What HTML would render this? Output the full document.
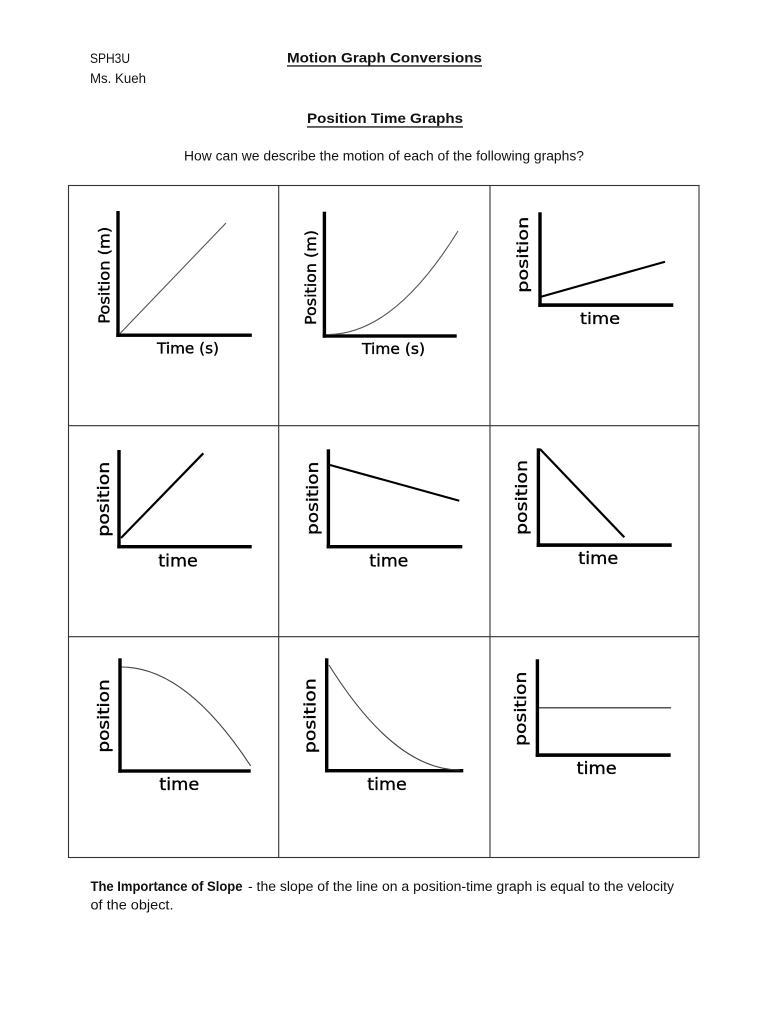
<!DOCTYPE html>
<html>
<head>
<meta charset="utf-8">
<style>
html,body{margin:0;padding:0;background:#fff;}
svg{display:block;}
.hd{font-family:"Liberation Sans",sans-serif;fill:#111;}
.gl{font-family:"DejaVu Sans","Liberation Sans",sans-serif;fill:#000;stroke:#000;stroke-width:0.35;}
</style>
</head>
<body>
<svg width="768" height="1024" viewBox="0 0 768 1024" xmlns="http://www.w3.org/2000/svg">
<rect width="768" height="1024" fill="#fff"/>

<!-- Header -->
<text class="hd" x="90" y="63" font-size="13.5" textLength="40" lengthAdjust="spacingAndGlyphs">SPH3U</text>
<text class="hd" x="90" y="83" font-size="13.5" textLength="56" lengthAdjust="spacingAndGlyphs">Ms. Kueh</text>
<text class="hd" x="287" y="62.5" font-size="14" font-weight="bold" textLength="195" lengthAdjust="spacingAndGlyphs">Motion Graph Conversions</text>
<rect x="287" y="65.3" width="195" height="1.3" fill="#111"/>
<text class="hd" x="307" y="123" font-size="14" font-weight="bold" textLength="156" lengthAdjust="spacingAndGlyphs">Position Time Graphs</text>
<rect x="307" y="126.3" width="156" height="1.3" fill="#111"/>
<text class="hd" x="184" y="160.5" font-size="13.5" textLength="400" lengthAdjust="spacingAndGlyphs">How can we describe the motion of each of the following graphs?</text>

<!-- Table -->
<g stroke="#333" stroke-width="1.1" fill="none">
<rect x="68.5" y="185.5" width="630.5" height="672"/>
<line x1="278.7" y1="185.5" x2="278.7" y2="857.5"/>
<line x1="490" y1="185.5" x2="490" y2="857.5"/>
<line x1="68.5" y1="425.7" x2="699" y2="425.7"/>
<line x1="68.5" y1="636.7" x2="699" y2="636.7"/>
</g>

<!-- G1 -->
<rect x="116.3" y="211" width="3.4" height="126" fill="#000"/>
<rect x="116.3" y="333.5" width="135.5" height="3.4" fill="#000"/>
<line x1="120" y1="333.5" x2="226" y2="223" stroke="#555" stroke-width="1.1"/>
<text class="gl" x="157" y="353.5" font-size="15" textLength="62" lengthAdjust="spacingAndGlyphs">Time (s)</text>
<text class="gl" font-size="15" text-anchor="middle" transform="translate(109.5,275.3) rotate(-90)" textLength="97" lengthAdjust="spacingAndGlyphs">Position (m)</text>

<!-- G2 -->
<rect x="322.7" y="211.7" width="3.4" height="126" fill="#000"/>
<rect x="322.7" y="334.3" width="134" height="3.4" fill="#000"/>
<path d="M328 334.5 Q394 334.5 458 231" stroke="#555" stroke-width="1.1" fill="none"/>
<text class="gl" x="362" y="354" font-size="15" textLength="63" lengthAdjust="spacingAndGlyphs">Time (s)</text>
<text class="gl" font-size="15" text-anchor="middle" transform="translate(316,277.5) rotate(-90)" textLength="95" lengthAdjust="spacingAndGlyphs">Position (m)</text>

<!-- G3 -->
<rect x="538.3" y="212.3" width="3.4" height="94.7" fill="#000"/>
<rect x="538.3" y="303.3" width="135" height="3.6" fill="#000"/>
<line x1="541" y1="296.7" x2="665" y2="261.7" stroke="#000" stroke-width="2.1"/>
<text class="gl" x="580" y="324" font-size="16" textLength="40" lengthAdjust="spacingAndGlyphs">time</text>
<text class="gl" font-size="15.5" text-anchor="middle" transform="translate(528,254.7) rotate(-90)" textLength="76" lengthAdjust="spacingAndGlyphs">position</text>

<!-- G4 -->
<rect x="117.3" y="450" width="3.4" height="98.3" fill="#000"/>
<rect x="117.3" y="545" width="134.4" height="3.4" fill="#000"/>
<line x1="121" y1="538" x2="203.3" y2="453.3" stroke="#000" stroke-width="2.2"/>
<text class="gl" x="158.3" y="566.5" font-size="16.5" textLength="39.5" lengthAdjust="spacingAndGlyphs">time</text>
<text class="gl" font-size="16" text-anchor="middle" transform="translate(109,499.2) rotate(-90)" textLength="75" lengthAdjust="spacingAndGlyphs">position</text>

<!-- G5 -->
<rect x="326.7" y="449.3" width="3.4" height="99" fill="#000"/>
<rect x="326.7" y="545" width="135.6" height="3.4" fill="#000"/>
<line x1="330" y1="465" x2="459.3" y2="500.7" stroke="#000" stroke-width="2.1"/>
<text class="gl" x="369.3" y="566.5" font-size="16.5" textLength="39" lengthAdjust="spacingAndGlyphs">time</text>
<text class="gl" font-size="16" text-anchor="middle" transform="translate(318,498.3) rotate(-90)" textLength="73.3" lengthAdjust="spacingAndGlyphs">position</text>

<!-- G6 -->
<rect x="536.7" y="448.3" width="3.4" height="98.7" fill="#000"/>
<rect x="536.7" y="543.3" width="135" height="3.6" fill="#000"/>
<line x1="540" y1="449" x2="624.3" y2="537.3" stroke="#000" stroke-width="2.2"/>
<text class="gl" x="578.3" y="564" font-size="16.5" textLength="40" lengthAdjust="spacingAndGlyphs">time</text>
<text class="gl" font-size="16" text-anchor="middle" transform="translate(527,497.5) rotate(-90)" textLength="75" lengthAdjust="spacingAndGlyphs">position</text>

<!-- G7 -->
<rect x="118.3" y="658.3" width="3.4" height="114.4" fill="#000"/>
<rect x="118.3" y="769.3" width="132.4" height="3.4" fill="#000"/>
<path d="M121.5 667 Q186 667 250.7 766" stroke="#444" stroke-width="1.1" fill="none"/>
<text class="gl" x="159.3" y="790" font-size="16.5" textLength="40" lengthAdjust="spacingAndGlyphs">time</text>
<text class="gl" font-size="16" text-anchor="middle" transform="translate(109,716) rotate(-90)" textLength="73.4" lengthAdjust="spacingAndGlyphs">position</text>

<!-- G8 -->
<rect x="325" y="658.3" width="3.4" height="114" fill="#000"/>
<rect x="325" y="769" width="138.3" height="3.4" fill="#000"/>
<path d="M329 665 Q394.5 770 460 770" stroke="#444" stroke-width="1.1" fill="none"/>
<text class="gl" x="367.3" y="790" font-size="16.5" textLength="39.4" lengthAdjust="spacingAndGlyphs">time</text>
<text class="gl" font-size="16" text-anchor="middle" transform="translate(315.5,715.7) rotate(-90)" textLength="75" lengthAdjust="spacingAndGlyphs">position</text>

<!-- G9 -->
<rect x="535.7" y="659.3" width="3.4" height="97.7" fill="#000"/>
<rect x="535.7" y="753.3" width="135" height="3.6" fill="#000"/>
<line x1="539" y1="707.7" x2="671" y2="707.7" stroke="#555" stroke-width="1.5"/>
<text class="gl" x="576.7" y="774" font-size="16.5" textLength="40" lengthAdjust="spacingAndGlyphs">time</text>
<text class="gl" font-size="16" text-anchor="middle" transform="translate(526,708.8) rotate(-90)" textLength="74.3" lengthAdjust="spacingAndGlyphs">position</text>

<!-- Bottom text -->
<text class="hd" x="90.5" y="891" font-size="13.5" font-weight="bold" textLength="152" lengthAdjust="spacingAndGlyphs">The Importance of Slope</text>
<text class="hd" x="248" y="891" font-size="13.5" textLength="426" lengthAdjust="spacingAndGlyphs">- the slope of the line on a position-time graph is equal to the velocity</text>
<text class="hd" x="90.5" y="909.5" font-size="13.5" textLength="83" lengthAdjust="spacingAndGlyphs">of the object.</text>
</svg>
</body>
</html>
